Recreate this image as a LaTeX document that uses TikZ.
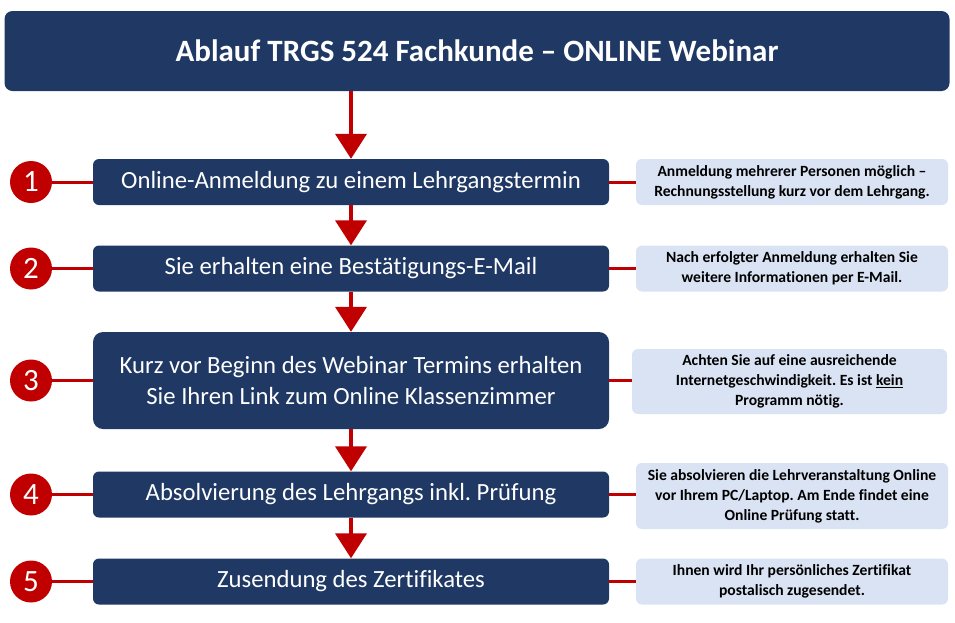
\documentclass[tikz,border=0pt]{standalone}
\usepackage{fontspec}
\setmainfont{Carlito}[Ligatures=NoCommon]
\usetikzlibrary{positioning, arrows.meta}
\definecolor{ablaufnavy}{RGB}{31,56,100}
\definecolor{ablaufred}{RGB}{192,0,0}
\definecolor{ablaufhint}{RGB}{218,227,243}
\frenchspacing

\tikzset{
    titlebox/.style={fill=ablaufnavy, text=white, rounded corners=8pt, inner sep=0pt,
          minimum width=945pt, minimum height=80pt, font=\bfseries\fontsize{31}{36}\selectfont},
    stepbox/.style={fill=ablaufnavy, text=white, rounded corners=6pt, inner sep=0pt, align=center,
          minimum width=516pt, minimum height=46pt, font=\fontsize{24.7}{31}\selectfont},
    hintbox/.style={fill=ablaufhint, rounded corners=6pt, inner sep=0pt, align=center,
          minimum width=312pt, minimum height=46pt, font=\bfseries\fontsize{15.6}{20}\selectfont},
    numdot/.style={circle, fill=ablaufred, text=white, minimum size=42pt, inner sep=0pt,
          font=\fontsize{31}{31}\selectfont},
    flow/.style={draw=ablaufred, line width=4pt, -{Triangle[width=31pt, length=25pt]}},
    link/.style={draw=ablaufred, line width=3pt}
}

\begin{document}
\begin{tikzpicture}[x=1pt, y=-1pt]
    \useasboundingbox (0,0) rectangle (955,622);

    \node[titlebox] (title) at (477,51) {Ablauf TRGS 524 Fachkunde -- ONLINE Webinar};

    % Ablauf-Schritte
    \node[stepbox] (step1) at (351,182) {Online-Anmeldung zu einem Lehrgangstermin};
    \node[stepbox] (step2) at (351,268.5) {Sie erhalten eine Bestätigungs-E-Mail};
    \node[stepbox, minimum height=97pt, rounded corners=10pt] (step3) at (351,380.5)
        {Kurz vor Beginn des Webinar Termins erhalten\\Sie Ihren Link zum Online Klassenzimmer};
    \node[stepbox] (step4) at (351,494.5) {Absolvierung des Lehrgangs inkl. Prüfung};
    \node[stepbox] (step5) at (351,581.5) {Zusendung des Zertifikates};

    % Nummern
    \node[numdot] (num1) at (31,182) {1};
    \node[numdot] (num2) at (31,268.5) {2};
    \node[numdot] (num3) at (31,380.5) {3};
    \node[numdot] (num4) at (31,494.5) {4};
    \node[numdot] (num5) at (31,581.5) {5};

    % Hinweise
    \node[hintbox] (hint1) at (792,182)
        {Anmeldung mehrerer Personen möglich --\\Rechnungsstellung kurz vor dem Lehrgang.};
    \node[hintbox] (hint2) at (792,268.5)
        {Nach erfolgter Anmeldung erhalten Sie\\weitere Informationen per E-Mail.};
    \node[hintbox, minimum width=315pt, minimum height=65pt] (hint3) at (789.5,381.5)
        {Achten Sie auf eine ausreichende\\Internetgeschwindigkeit. Es ist \underline{kein}\\Programm nötig.};
    \node[hintbox, minimum height=66pt] (hint4) at (792,496)
        {Sie absolvieren die Lehrveranstaltung Online\\vor Ihrem PC/Laptop. Am Ende findet eine\\Online Prüfung statt.};
    \node[hintbox] (hint5) at (792,581.5)
        {Ihnen wird Ihr persönliches Zertifikat\\postalisch zugesendet.};

    % Pfeile
    \draw[flow] (title.south -| step1.north) -- (step1.north);
    \draw[flow] (step1) -- (step2);
    \draw[flow] (step2) -- (step3);
    \draw[flow] (step3) -- (step4);
    \draw[flow] (step4) -- (step5);

    % Verbindungen
    \foreach \i in {1,...,5} {
        \draw[link] (num\i.east) -- (step\i.west);
        \draw[link] (step\i.east) -- (hint\i.west |- step\i.east);
    }
\end{tikzpicture}
\end{document}
